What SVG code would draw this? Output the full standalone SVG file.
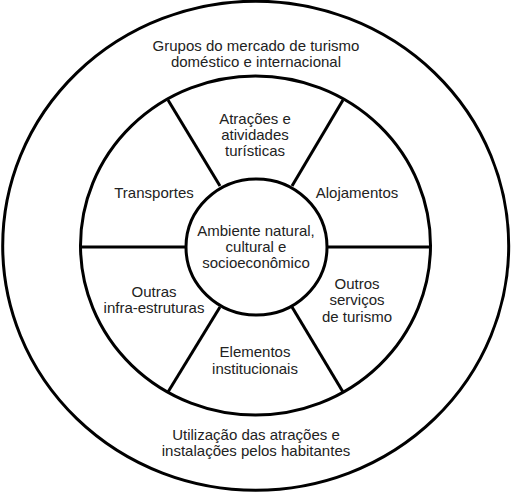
<svg xmlns="http://www.w3.org/2000/svg" width="512" height="495" viewBox="0 0 512 495">
<style>
.ring{fill:none;stroke:#000;stroke-width:3}
.sep{stroke:#000;stroke-width:3;fill:none}
text{font-family:"Liberation Sans",Arial,sans-serif;font-size:15px;fill:#222;text-anchor:middle}
</style>
<rect width="512" height="495" fill="#fff"/>
<g id="outer">
<ellipse class="ring" cx="255.7" cy="245.7" rx="253" ry="244.5"/>
<text x="256" y="51">Grupos do mercado de turismo</text>
<text x="256" y="67">doméstico e internacional</text>
<text x="256" y="440">Utilização das atrações e</text>
<text x="256" y="456">instalações pelos habitantes</text>
</g>
<g id="middle">
<ellipse class="ring" cx="255.5" cy="245.5" rx="175" ry="169.5"/>
</g>
<g id="connectors">
<line class="sep" x1="80" y1="247" x2="186" y2="247"/>
<line class="sep" x1="327" y1="247" x2="431" y2="247"/>
<line class="sep" x1="168" y1="100" x2="220" y2="186"/>
<line class="sep" x1="343" y1="100" x2="292" y2="186"/>
<line class="sep" x1="220" y1="307" x2="168" y2="392"/>
<line class="sep" x1="292" y1="307" x2="343" y2="392"/>
</g>
<g id="center">
<ellipse class="ring" cx="256.5" cy="247" rx="70.5" ry="68"/>
<text x="256" y="236">Ambiente natural,</text>
<text x="256" y="252">cultural e</text>
<text x="256" y="268">socioeconômico</text>
</g>
<g id="atracoes">
<text x="255" y="124">Atrações e</text>
<text x="255" y="140">atividades</text>
<text x="255" y="156">turísticas</text>
</g>
<g id="transportes"><text x="154" y="198">Transportes</text></g>
<g id="alojamentos"><text x="357" y="198">Alojamentos</text></g>
<g id="outras"><text x="154" y="297">Outras</text><text x="154" y="313">infra-estruturas</text></g>
<g id="outros"><text x="357" y="289">Outros</text><text x="357" y="305">serviços</text><text x="357" y="322">de turismo</text></g>
<g id="elementos"><text x="255" y="357">Elementos</text><text x="255" y="374">institucionais</text></g>
</svg>
